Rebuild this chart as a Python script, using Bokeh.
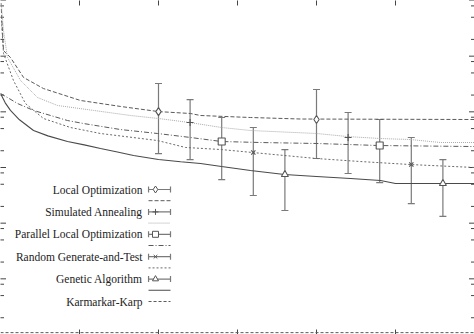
import math
from bokeh.plotting import figure
from bokeh.models import Range1d, Whisker, TeeHead, ColumnDataSource
from bokeh.core.properties import value
from bokeh.embed import file_html
from bokeh.resources import INLINE

# ---------------- data ----------------
x_ticks = [0, 500, 1000, 1500, 2000, 2500, 3000]
y_ticks = [1, 10, 100, 1000, 10000, 100000, 1000000]
y_minor = [m * d for d in [1, 10, 100, 1000, 10000, 100000] for m in (2, 5, 8)]

lo_x = [3, 19, 63, 146, 272, 506, 759, 1000, 1203, 1266, 1582, 1899, 3000]
lo_y = [9.0e5, 1.26e5, 9.46e4, 4.14e4, 2.62e4, 1.60e4, 1.25e4, 1.01e4, 9330, 8590, 7910, 7430, 7280]

sa_x = [6, 19, 44, 127, 234, 361, 589, 823, 1000, 1196, 1399, 1582, 2000, 2196, 2399, 2595, 2785, 3000]
sa_y = [8.13e5, 2.89e5, 9.46e4, 3.66e4, 1.81e4, 1.30e4, 1.06e4, 8590, 7590, 6430, 5230, 4620,
        4080, 3600, 3320, 3180, 2810, 2810]

plo_x = [0, 44, 108, 209, 424, 525, 759, 994, 1203, 1399, 1646, 2000, 2399, 3000]
plo_y = [2.13e4, 1.81e4, 1.41e4, 1.06e4, 6980, 6170, 4810, 4080, 3460, 2930, 2810, 2700, 2480, 2380]

rgt_x = [6, 19, 82, 158, 272, 443, 633, 994, 1171, 1399, 1595, 2000, 2278, 2595, 3000]
rgt_y = [4.37e5, 1.12e5, 3.66e4, 1.41e4, 7590, 5230, 4080, 3050, 2290, 2100, 1860, 1450, 1280, 1130, 1000]

ga_x = [0, 30, 63, 120, 209, 300, 424, 530, 633, 740, 842, 1000, 1140, 1266, 1399, 1582,
        1797, 2000, 2215, 2405, 2500, 3000]
ga_y = [2.13e4, 1.45e4, 1.06e4, 7200, 4620, 3700, 2930, 2550, 2190, 1900, 1640, 1390, 1270,
        1180, 1040, 883, 748, 689, 634, 584, 515, 515]

kk_x = [0, 3000]
kk_y = [1.08, 1.08]

# error-bar points: x, mean, upper, lower
lo_ex, lo_em, lo_eu, lo_el = [1000, 2000], [1.01e4, 7280], [3.23e4, 2.52e4], [1780, 1450]
sa_ex, sa_em, sa_eu, sa_el = [1200, 2200], [6430, 3460], [1.66e4, 9720], [1390, 780]
plo_ex, plo_em, plo_eu, plo_el = [1400, 2400], [2930, 2480], [7910, 7280], [608, 537]
rgt_ex, rgt_em, rgt_eu, rgt_el = [1600, 2600], [1860, 1130], [5230, 3460], [314, 225]
ga_ex, ga_em, ga_eu, ga_el = [1800, 2800], [748, 515], [2100, 1390], [169, 132]

names = ["Local Optimization", "Simulated Annealing", "Parallel Local Optimization",
         "Random Generate-and-Test", "Genetic Algorithm", "Karmarkar-Karp"]

# ---------------- styles ----------------
ERR_COLOR = "#7a7a7a"
MARK_COLOR = "#555555"
TICK_COLOR = "#444444"
series = [
    dict(x=lo_x, y=lo_y, color="#5a5a5a", dash="4 2", width=1.0, marker="diamond", msize=8,
         ex=lo_ex, em=lo_em, eu=lo_eu, el=lo_el),
    dict(x=sa_x, y=sa_y, color="#a8a8a8", dash="1 1", width=1.0, marker="cross", msize=7,
         ex=sa_ex, em=sa_em, eu=sa_eu, el=sa_el),
    dict(x=plo_x, y=plo_y, color="#5a5a5a", dash="5 2 1 2", width=1.0, marker="square", msize=7,
         ex=plo_ex, em=plo_em, eu=plo_eu, el=plo_el),
    dict(x=rgt_x, y=rgt_y, color="#6a6a6a", dash="2 2", width=1.0, marker="x", msize=6,
         ex=rgt_ex, em=rgt_em, eu=rgt_eu, el=rgt_el),
    dict(x=ga_x, y=ga_y, color="#4a4a4a", dash="solid", width=1.1, marker="triangle", msize=7,
         ex=ga_ex, em=ga_em, eu=ga_eu, el=ga_el),
]
kk_style = dict(color="#5a5a5a", dash="3 2", width=1.0)

X0, X1 = x_ticks[0], x_ticks[-1]
Y0, Y1 = y_ticks[0], y_ticks[-1]
p = figure(width=474, height=334, x_range=Range1d(X0, X1), y_range=Range1d(Y0, Y1),
           y_axis_type="log", x_axis_location=None, y_axis_location=None,
           output_backend="svg", toolbar_location=None, min_border=0,
           outline_line_color=None, background_fill_color="white")
p.grid.visible = False

# ---------------- inward tick marks on all four edges (clipped half of a dash marker) ----------------
inner_x = x_ticks[1:-1]
p.scatter(inner_x, [Y0] * len(inner_x), marker="dash", angle=math.pi / 2, size=10,
          line_color=TICK_COLOR, line_width=1)
p.scatter(inner_x, [Y1] * len(inner_x), marker="dash", angle=math.pi / 2, size=10,
          line_color=TICK_COLOR, line_width=1)
for edge in (X0, X1):
    p.scatter([edge] * len(y_ticks), y_ticks, marker="dash", size=11,
              line_color=TICK_COLOR, line_width=1)
    p.scatter([edge] * len(y_minor), y_minor, marker="dash", size=7,
              line_color=TICK_COLOR, line_width=1)

# ---------------- curves ----------------
for s in series:
    p.line(s["x"], s["y"], line_color=s["color"], line_dash=s["dash"], line_width=s["width"])
p.line(kk_x, kk_y, line_color=kk_style["color"], line_dash=kk_style["dash"], line_width=kk_style["width"])

# ---------------- error bars and markers ----------------
for s in series:
    src = ColumnDataSource(dict(x=s["ex"], m=s["em"], u=s["eu"], l=s["el"]))
    w = Whisker(base="x", upper="u", lower="l", source=src, dimension="height",
                line_color=ERR_COLOR, line_width=1.2,
                upper_head=TeeHead(size=7, line_color=ERR_COLOR, line_width=1.2),
                lower_head=TeeHead(size=7, line_color=ERR_COLOR, line_width=1.2))
    p.add_layout(w)
    p.scatter("x", "m", source=src, marker=s["marker"], size=s["msize"],
              line_color=MARK_COLOR, fill_color="white", line_width=1.1)

# ---------------- legend (gnuplot style: text, then sample on the right) ----------------
H = 334.0  # frame height in px, used only for layout of the key


def y_at(px_from_top):
    frac = px_from_top / H
    return 10 ** ((1 - frac) * math.log10(Y1 / Y0)) * Y0


key_top = 189.0
key_step = 11.2
text_x = 899
samp_x0, samp_x1, samp_mark = 937, 1076, 981

rows = []
for i, s in enumerate(series):
    rows.append(("err", names[i], s))
    rows.append(("line", "", s))
rows.append(("line", names[5], kk_style))

tx, ty, tt = [], [], []
for r, (kind, label, s) in enumerate(rows):
    yy = y_at(key_top + r * key_step)
    if label:
        tx.append(text_x)
        ty.append(yy)
        tt.append(label)
    if kind == "err":
        src = ColumnDataSource(dict(y=[yy], a=[samp_x0], b=[samp_x1]))
        p.add_layout(Whisker(base="y", lower="a", upper="b", source=src, dimension="width",
                             line_color=ERR_COLOR, line_width=1.2,
                             upper_head=TeeHead(size=6, line_color=ERR_COLOR, line_width=1.2),
                             lower_head=TeeHead(size=6, line_color=ERR_COLOR, line_width=1.2)))
        p.scatter([samp_mark], [yy], marker=s["marker"], size=s["msize"] - 1,
                  line_color=MARK_COLOR, fill_color="white", line_width=1.0)
    else:
        p.line([samp_x0, samp_x1], [yy, yy], line_color=s["color"], line_dash=s["dash"],
               line_width=s["width"])

p.text(x=tx, y=ty, text=tt, text_align="right", text_baseline="middle",
       text_font=value("'Liberation Serif', 'DejaVu Serif', serif"), text_font_size="11.5px",
       text_color="#222222")

open("out.html", "w").write(file_html(p, INLINE))
